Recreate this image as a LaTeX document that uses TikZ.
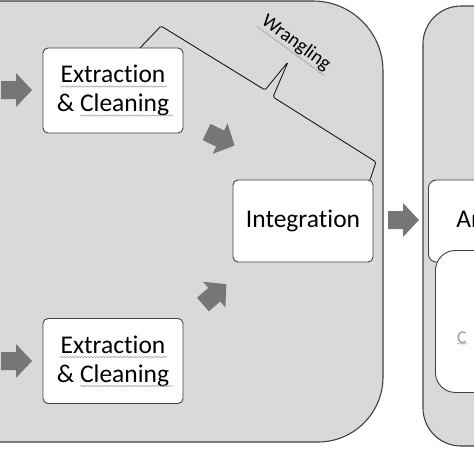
\documentclass[tikz,border=0pt]{standalone}
\usepackage{fontspec}
\setmainfont{Carlito}[Ligatures={NoCommon}]
\usetikzlibrary{positioning,calc,decorations.pathmorphing}
\definecolor{panelgray}{HTML}{D9D9D9}
\definecolor{edgegray}{HTML}{404040}
\definecolor{arrowgray}{HTML}{767676}
\definecolor{squiggle}{HTML}{A0A0A0}
\tikzset{
  x=1pt, y=-1pt,
  panel/.style={fill=panelgray,draw=edgegray,line width=1.1pt},
  stepbox/.style={rectangle,rounded corners=5pt,draw=edgegray,fill=white,line width=0.9pt,align=center,font=\fontsize{25.5}{29}\selectfont,inner sep=0pt},
  braceline/.style={draw=black!90,line width=0.9pt,rounded corners=1.5pt},
  squig/.style={draw=squiggle,line width=0.5pt,decorate,decoration={snake,segment length=3pt,amplitude=0.7pt}},
  blockarrow/.pic={\fill[arrowgray] (-16,-9) -- (-1,-9) -- (-1,-17) -- (15,0) -- (-1,17) -- (-1,9) -- (-16,9) -- cycle;}
}

\begin{document}
\begin{tikzpicture}
  \useasboundingbox (0,0) rectangle (474,474);
  \clip (0,0) rectangle (474,474);
  % panels
  \draw[panel] (-60,1) [rounded corners=70pt] -- (383,1) [rounded corners=65pt] -- (383,442) [sharp corners] -- (-60,442) -- cycle;
  \draw[panel,rounded corners=38pt] (540,6) -- (423,6) -- (423,446) -- (540,446);
  % steps
  \node[stepbox,minimum width=140pt,minimum height=85pt] (ext1) at (113,90.5) {Extraction\\\& Cleaning};
  \node[stepbox,minimum width=140pt,minimum height=85pt] (ext2) at (113,361) {Extraction\\\& Cleaning};
  \node[stepbox,minimum width=140pt,minimum height=82pt] (integ) at (303,221) {Integration};
  \node[stepbox,rounded corners=8pt,anchor=west,inner xsep=28pt,minimum height=82pt] (analysis) at (428,221) {Analysis};
  \node[stepbox,rounded corners=20pt,anchor=north west,minimum width=120pt,minimum height=142pt] (cbox) at (435,250) {};
  \node[right=22pt of cbox.west,yshift=-16pt,inner sep=0pt,text=squiggle,font=\fontsize{18}{20}\selectfont] (ctext) {C};
  % spelling marks
  \foreach \e in {ext1,ext2} {
    \draw[squig] ($(\e.center)+(-53,-4)$) -- ($(\e.center)+(54,-4)$);
    \draw[squig] ($(\e.center)+(-33,25)$) -- ($(\e.center)+(60,25)$);
  }
  \draw[squig] (ctext.south west) -- (ctext.south east);
  % block arrows
  \pic at (17,90) {blockarrow};
  \pic at (17,361) {blockarrow};
  \pic[rotate=-26] at (221,139) {blockarrow};
  \pic[rotate=41] at (215,294) {blockarrow};
  \pic at (404,220) {blockarrow};
  % wrangling brace
  \coordinate (b1) at (140,48);
  \coordinate (b2) at (161,26);
  \coordinate (b3) at (265,90);
  \coordinate (tip) at (288,62);
  \coordinate (b4) at (273,97);
  \coordinate (b5) at (376,162);
  \coordinate (b6) at (370,180);
  \draw[braceline] (b1) -- (b2) -- (b3) -- (tip) -- (b4) -- (b5) -- (b6);
  \node[font=\fontsize{19.5}{22}\selectfont,rotate=-36,inner sep=1pt] (wrangle) at (296,43) {Wrangling};
  \draw[squig] (wrangle.south west) -- (wrangle.south east);
\end{tikzpicture}
\end{document}
